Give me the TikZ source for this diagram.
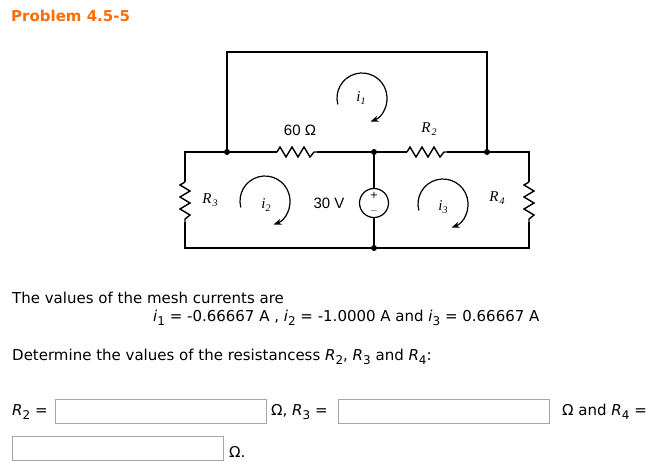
\documentclass[tikz,border=0pt]{standalone}
\usepackage{fontspec}
\setmainfont{DejaVu Sans}
\newfontfamily\circfont{Liberation Sans}
\newfontfamily\labfont{Liberation Serif}
\usetikzlibrary{arrows.meta}
\newcommand\sbs[1]{\raisebox{-3.5pt}{\fontsize{12}{12}\selectfont #1}}
\newcommand\csbs[1]{\raisebox{-3.5pt}{\fontsize{10}{10}\selectfont #1}}
\tikzset{
  wire/.style={line width=1.4pt},
  dot/.style={circle,fill=black,inner sep=0pt,minimum size=6pt},
  mesh/.style={line width=1.2pt,-{Stealth[length=8pt,width=6pt]}},
  ansbox/.style={draw=gray!70,line width=0.8pt,minimum width=211pt,minimum height=24pt,inner sep=0pt},
  txt/.style={anchor=west,inner sep=0pt,font=\fontsize{15}{17}\selectfont},
  clab/.style={inner sep=0pt,font=\circfont\fontsize{15}{16}\selectfont},
  pm/.style={inner sep=0pt,font=\fontsize{10}{10}\selectfont},
  hres/.pic={\draw[wire,line join=miter] (-20,0)--(-17,-5)--(-11,5)--(-5,-5)--(1,5)--(7,-5)--(13,5)--(17,0)--(20,0);},
  vres/.pic={\draw[wire,line join=miter] (0,-20)--(-5,-17)--(5,-11)--(-5,-5)--(5,1)--(-5,7)--(5,13)--(0,17)--(0,20);}
}
\begin{document}
\begin{tikzpicture}[x=1pt,y=-1pt]
\useasboundingbox[fill=white] (0,0) rectangle (648,472);
\node[anchor=west,inner sep=0pt,text=orange!85!red,font=\bfseries\fontsize{15}{17}\selectfont] (title) at (11,16) {Problem 4.5-5};
% circuit
\coordinate (TL) at (227,52); \coordinate (TR) at (487,52);
\coordinate (A) at (227,152); \coordinate (B) at (374,152); \coordinate (C) at (487,152);
\coordinate (LL) at (185,152); \coordinate (RR) at (529,152);
\coordinate (BL) at (185,248); \coordinate (BM) at (374,248); \coordinate (BR) at (529,248);
\draw[wire] (A)--(TL)--(TR)--(C);
\draw[wire] (A)--(LL)--(185,182);
\draw[wire] (185,222)--(BL)--(BM)--(BR)--(529,222);
\draw[wire] (529,182)--(RR)--(C);
\draw[wire] (A)--(277,152); \draw[wire] (317,152)--(B)--(407,152); \draw[wire] (447,152)--(C);
\pic at (297,152) {hres};
\pic at (427,152) {hres};
\pic at (185,202) {vres};
\pic at (529,202) {vres};
\node[circle,draw,line width=1.2pt,minimum size=29pt,inner sep=0pt] (src) at (374,203) {};
\draw[wire] (B)--(src.north); \draw[wire] (src.south)--(BM);
\node[pm] (plus) at (374,195.5) {+};
\node[pm] (minus) at (374,210.5) {$-$};
\node[dot] (dA) at (A) {}; \node[dot] (dB) at (B) {}; \node[dot] (dC) at (C) {}; \node[dot] (dBM) at (BM) {};
\node[clab] (l60) at (300,130) {60 Ω};
\node[clab] (l30) at (329,203) {30 V};
\node[clab] (lR2) at (429,129) {\labfont\itshape R\kern1pt\csbs{2}};
\node[clab] (lR3) at (210,200) {\labfont\itshape R\kern1pt\csbs{3}};
\node[clab] (lR4) at (497,198) {\labfont\itshape R\kern1pt\csbs{4}};
\node[clab] (li1) at (361,98) {\labfont\itshape i\csbs{1}};
\node[clab] (li2) at (266,205) {\labfont\itshape i\csbs{2}};
\node[clab] (li3) at (443,207) {\labfont\itshape i\csbs{3}};
\draw[mesh] (362,98) ++(165:25) arc[start angle=165,end angle=430,radius=25];
\draw[mesh] (265,201) ++(165:25) arc[start angle=165,end angle=430,radius=25];
\draw[mesh] (443,204) ++(165:25) arc[start angle=165,end angle=430,radius=25];
% text
\node[txt] (t1) at (12,298) {The values of the mesh currents are};
\node[txt] (t2) at (153,318) {\textit{i}\sbs{1} = -0.66667 A , \textit{i}\sbs{2} = -1.0000 A and \textit{i}\sbs{3} = 0.66667 A};
\node[txt] (t3) at (12,357) {Determine the values of the resistancess \textit{R}\sbs{2}, \textit{R}\sbs{3} and \textit{R}\sbs{4}:};
\node[txt] (r2) at (12,412) {\textit{R}\sbs{2} =};
\node[ansbox,anchor=west] (b1) at (55,411) {};
\node[txt] (r3) at (271,412) {Ω, \textit{R}\sbs{3} =};
\node[ansbox,anchor=west] (b2) at (338,411) {};
\node[txt] (r4) at (562,412) {Ω and \textit{R}\sbs{4} =};
\node[ansbox,anchor=west] (b3) at (12,448) {};
\node[txt] (om) at (229,452) {Ω.};
\end{tikzpicture}
\end{document}
